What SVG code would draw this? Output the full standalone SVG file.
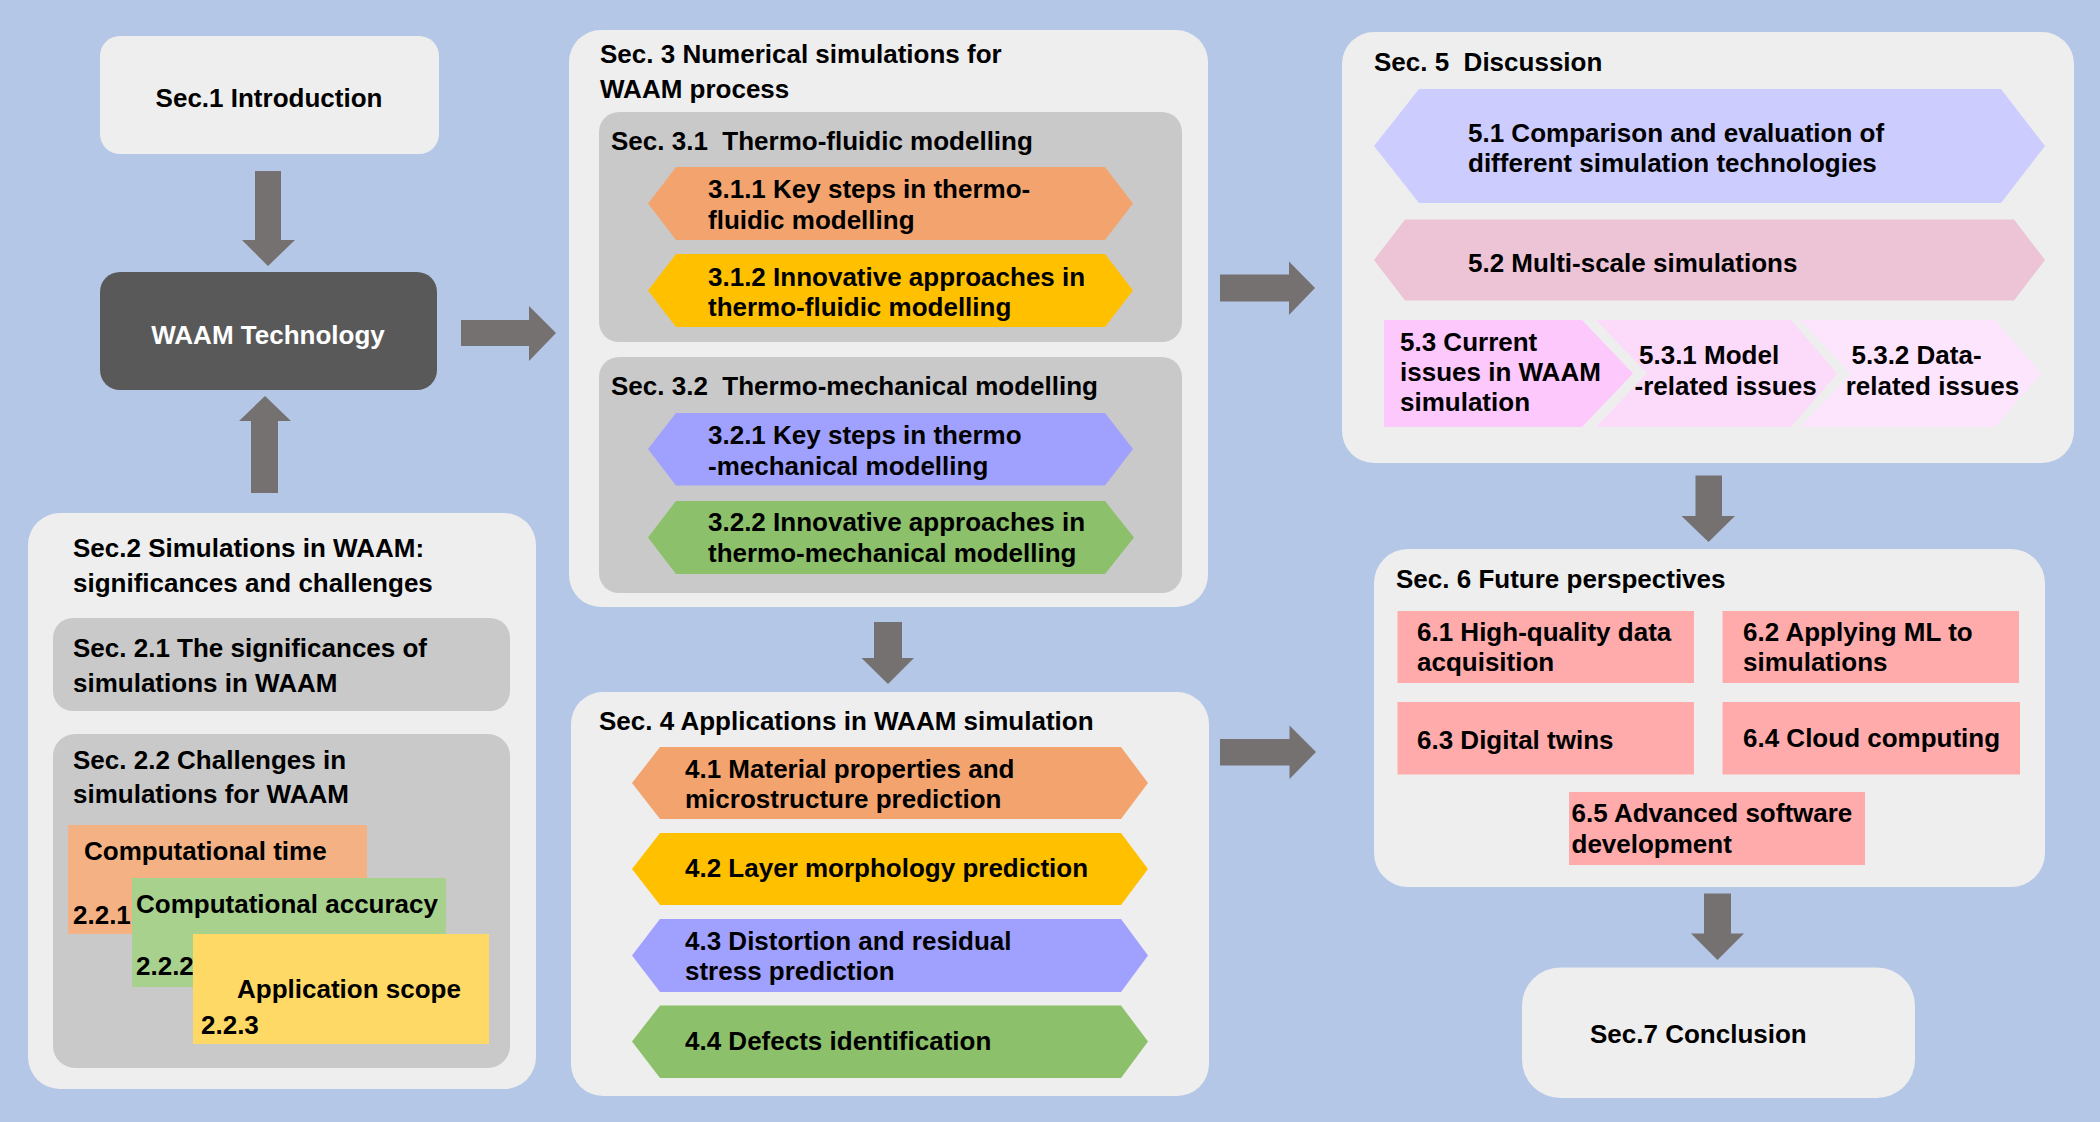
<svg xmlns="http://www.w3.org/2000/svg" width="2100" height="1122" viewBox="0 0 2100 1122">
<style>
.t{font-family:"Liberation Sans",Arial,Helvetica,sans-serif;font-weight:bold;font-size:26px;fill:#000}
.w{fill:#fff}
.outer{fill:#EEEEEE}
.inner{fill:#C9C9C9}
.arr{fill:#767171}
.or{fill:#F3A46E}
.ye{fill:#FFC000}
.pu{fill:#A0A0FF}
.gr{fill:#8CC06A}
.rd{fill:#FFABAB}
</style>
<rect x="0" y="0" width="2100" height="1122" fill="#B4C7E7"/>

<g id="sec1">
<rect class="outer" x="100" y="36" width="339" height="118" rx="20"/>
<text class="t" x="269" y="107" text-anchor="middle">Sec.1 Introduction</text>
</g>

<g id="waam">
<rect x="100" y="272" width="337" height="118" rx="20" fill="#595959"/>
<text class="t w" x="268" y="344" text-anchor="middle">WAAM Technology</text>
</g>

<g id="sec2">
<rect class="outer" x="28" y="513" width="508" height="576" rx="32"/>
<text class="t" x="73" y="557">Sec.2 Simulations in WAAM:</text>
<text class="t" x="73" y="592">significances and challenges</text>
<g id="sec2_1">
<rect class="inner" x="53" y="618" width="457" height="93" rx="20"/>
<text class="t" x="73" y="657">Sec. 2.1 The significances of</text>
<text class="t" x="73" y="692">simulations in WAAM</text>
</g>
<g id="sec2_2">
<rect class="inner" x="53" y="734" width="457" height="334" rx="22"/>
<text class="t" x="73" y="769">Sec. 2.2 Challenges in</text>
<text class="t" x="73" y="803">simulations for WAAM</text>
</g>
<g id="sec2_2_1">
<rect x="68" y="825" width="299" height="109" fill="#F4B183"/>
<text class="t" x="84" y="860">Computational time</text>
<text class="t" x="73" y="924">2.2.1</text>
</g>
<g id="sec2_2_2">
<rect x="132" y="878" width="314" height="109" fill="#A9D18E"/>
<text class="t" x="136" y="913">Computational accuracy</text>
<text class="t" x="136" y="975">2.2.2</text>
</g>
<g id="sec2_2_3">
<rect x="193" y="934" width="296" height="110" fill="#FFD966"/>
<text class="t" x="237" y="998">Application scope</text>
<text class="t" x="201" y="1034">2.2.3</text>
</g>
</g>

<g id="sec3">
<rect class="outer" x="569" y="30" width="639" height="577" rx="32"/>
<text class="t" x="600" y="63">Sec. 3 Numerical simulations for</text>
<text class="t" x="600" y="98">WAAM process</text>
<g id="sec3_1">
<rect class="inner" x="599" y="112" width="583" height="230" rx="20"/>
<text class="t" x="611" y="150" xml:space="preserve">Sec. 3.1  Thermo-fluidic modelling</text>
</g>
<g id="sec3_1_1">
<polygon class="or" points="648,203.5 676,167 1105,167 1133,203.5 1105,240 676,240"/>
<text class="t" x="708" y="198">3.1.1 Key steps in thermo-</text>
<text class="t" x="708" y="228.5">fluidic modelling</text>
</g>
<g id="sec3_1_2">
<polygon class="ye" points="648,290.5 676,254 1105,254 1133,290.5 1105,327 676,327"/>
<text class="t" x="708" y="285.5">3.1.2 Innovative approaches in</text>
<text class="t" x="708" y="316">thermo-fluidic modelling</text>
</g>
<g id="sec3_2">
<rect class="inner" x="599" y="357" width="583" height="236" rx="20"/>
<text class="t" x="611" y="395" xml:space="preserve">Sec. 3.2  Thermo-mechanical modelling</text>
</g>
<g id="sec3_2_1">
<polygon class="pu" points="648,449 676,413 1105,413 1133,449 1105,485.5 676,485.5"/>
<text class="t" x="708" y="443.6">3.2.1 Key steps in thermo</text>
<text class="t" x="708" y="474.5">-mechanical modelling</text>
</g>
<g id="sec3_2_2">
<polygon class="gr" points="648,537.5 676,501 1105,501 1134,537.5 1105,574 676,574"/>
<text class="t" x="708" y="530.6">3.2.2 Innovative approaches in</text>
<text class="t" x="708" y="561.5">thermo-mechanical modelling</text>
</g>
</g>

<g id="sec4">
<rect class="outer" x="571" y="692" width="638" height="404" rx="32"/>
<text class="t" x="599" y="730">Sec. 4 Applications in WAAM simulation</text>
<g id="sec4_1">
<polygon class="or" points="632,783 660,747 1121,747 1148,783 1121,819 660,819"/>
<text class="t" x="685" y="778">4.1 Material properties and</text>
<text class="t" x="685" y="808">microstructure prediction</text>
</g>
<g id="sec4_2">
<polygon class="ye" points="632,869 660,833 1121,833 1148,869 1121,905 660,905"/>
<text class="t" x="685" y="877">4.2 Layer morphology prediction</text>
</g>
<g id="sec4_3">
<polygon class="pu" points="632,955.5 660,919 1121,919 1148,955.5 1121,992 660,992"/>
<text class="t" x="685" y="949.6">4.3 Distortion and residual</text>
<text class="t" x="685" y="979.5">stress prediction</text>
</g>
<g id="sec4_4">
<polygon class="gr" points="632,1041.5 660,1005.5 1121,1005.5 1148,1041.5 1121,1078 660,1078"/>
<text class="t" x="685" y="1050">4.4 Defects identification</text>
</g>
</g>

<g id="sec5">
<rect class="outer" x="1342" y="32" width="732" height="431" rx="32"/>
<text class="t" x="1374" y="71" xml:space="preserve">Sec. 5  Discussion</text>
<g id="sec5_1">
<polygon fill="#CCCCFF" points="1374,146 1419,89 2001,89 2045,146 2001,203 1419,203"/>
<text class="t" x="1468" y="141.5">5.1 Comparison and evaluation of</text>
<text class="t" x="1468" y="171.5">different simulation technologies</text>
</g>
<g id="sec5_2">
<polygon fill="#EDC3D6" points="1374,260 1405,219.5 2014,219.5 2045,260 2014,300.5 1405,300.5"/>
<text class="t" x="1468" y="272">5.2 Multi-scale simulations</text>
</g>
<g id="sec5_3">
<polygon fill="#FDC8FB" points="1384,320 1582,320 1633,373.5 1582,427 1384,427"/>
<text class="t" x="1400" y="351">5.3 Current</text>
<text class="t" x="1400" y="381">issues in WAAM</text>
<text class="t" x="1400" y="411">simulation</text>
</g>
<g id="sec5_3_1">
<polygon fill="#FCDAFA" points="1596,320 1791,320 1837,373.5 1791,427 1596,427 1647,373.5"/>
<text class="t" x="1639" y="363.6">5.3.1 Model</text>
<text class="t" x="1634.5" y="394.6">-related issues</text>
</g>
<g id="sec5_3_2">
<polygon fill="#FDE6FD" points="1800,320 1995,320 2041,373.5 1995,427 1800,427 1851,373.5"/>
<text class="t" x="1851.5" y="363.6">5.3.2 Data-</text>
<text class="t" x="1845.7" y="394.6">related issues</text>
</g>
</g>

<g id="sec6">
<rect class="outer" x="1374" y="549" width="671" height="338" rx="34"/>
<text class="t" x="1396" y="587.5">Sec. 6 Future perspectives</text>
<g id="sec6_1">
<rect class="rd" x="1397.5" y="611" width="296.5" height="72"/>
<text class="t" x="1417" y="640.7">6.1 High-quality data</text>
<text class="t" x="1417" y="670.5">acquisition</text>
</g>
<g id="sec6_2">
<rect class="rd" x="1722.5" y="611" width="296.5" height="72"/>
<text class="t" x="1743" y="640.7">6.2 Applying ML to</text>
<text class="t" x="1743" y="670.5">simulations</text>
</g>
<g id="sec6_3">
<rect class="rd" x="1397.5" y="702" width="296.5" height="72.5"/>
<text class="t" x="1417" y="749">6.3 Digital twins</text>
</g>
<g id="sec6_4">
<rect class="rd" x="1722.5" y="702" width="297.5" height="72.5"/>
<text class="t" x="1743" y="747">6.4 Cloud computing</text>
</g>
<g id="sec6_5">
<rect class="rd" x="1569" y="792" width="296" height="73"/>
<text class="t" x="1571.5" y="822">6.5 Advanced software</text>
<text class="t" x="1571.5" y="852.6">development</text>
</g>
</g>

<g id="sec7">
<rect class="outer" x="1522" y="967.5" width="393" height="130.5" rx="38"/>
<text class="t" x="1590" y="1042.6">Sec.7 Conclusion</text>
</g>

<g id="connectors">
<polygon class="arr" points="255,171 281,171 281,240 295,240 268,266 242,240 255,240"/>
<polygon class="arr" points="251,493 278,493 278,421 291,421 265,396 239,421 251,421"/>
<polygon class="arr" points="461,320 529,320 529,306 556,333 529,361 529,346 461,346"/>
<polygon class="arr" points="1220,274.5 1289,274.5 1289,261.5 1315,288 1289,315 1289,301.5 1220,301.5"/>
<polygon class="arr" points="874,622 902,622 902,658 914,658 888,684 861.5,658 874,658"/>
<polygon class="arr" points="1220,739 1289.5,739 1289.5,725.5 1316,752 1289.5,779 1289.5,765.5 1220,765.5"/>
<polygon class="arr" points="1695.5,475.5 1722,475.5 1722,516 1735,516 1708.5,542 1681.5,516 1695.5,516"/>
<polygon class="arr" points="1704,893.5 1731,893.5 1731,933.5 1744,933.5 1717.5,960 1691,933.5 1704,933.5"/>
</g>
</svg>
